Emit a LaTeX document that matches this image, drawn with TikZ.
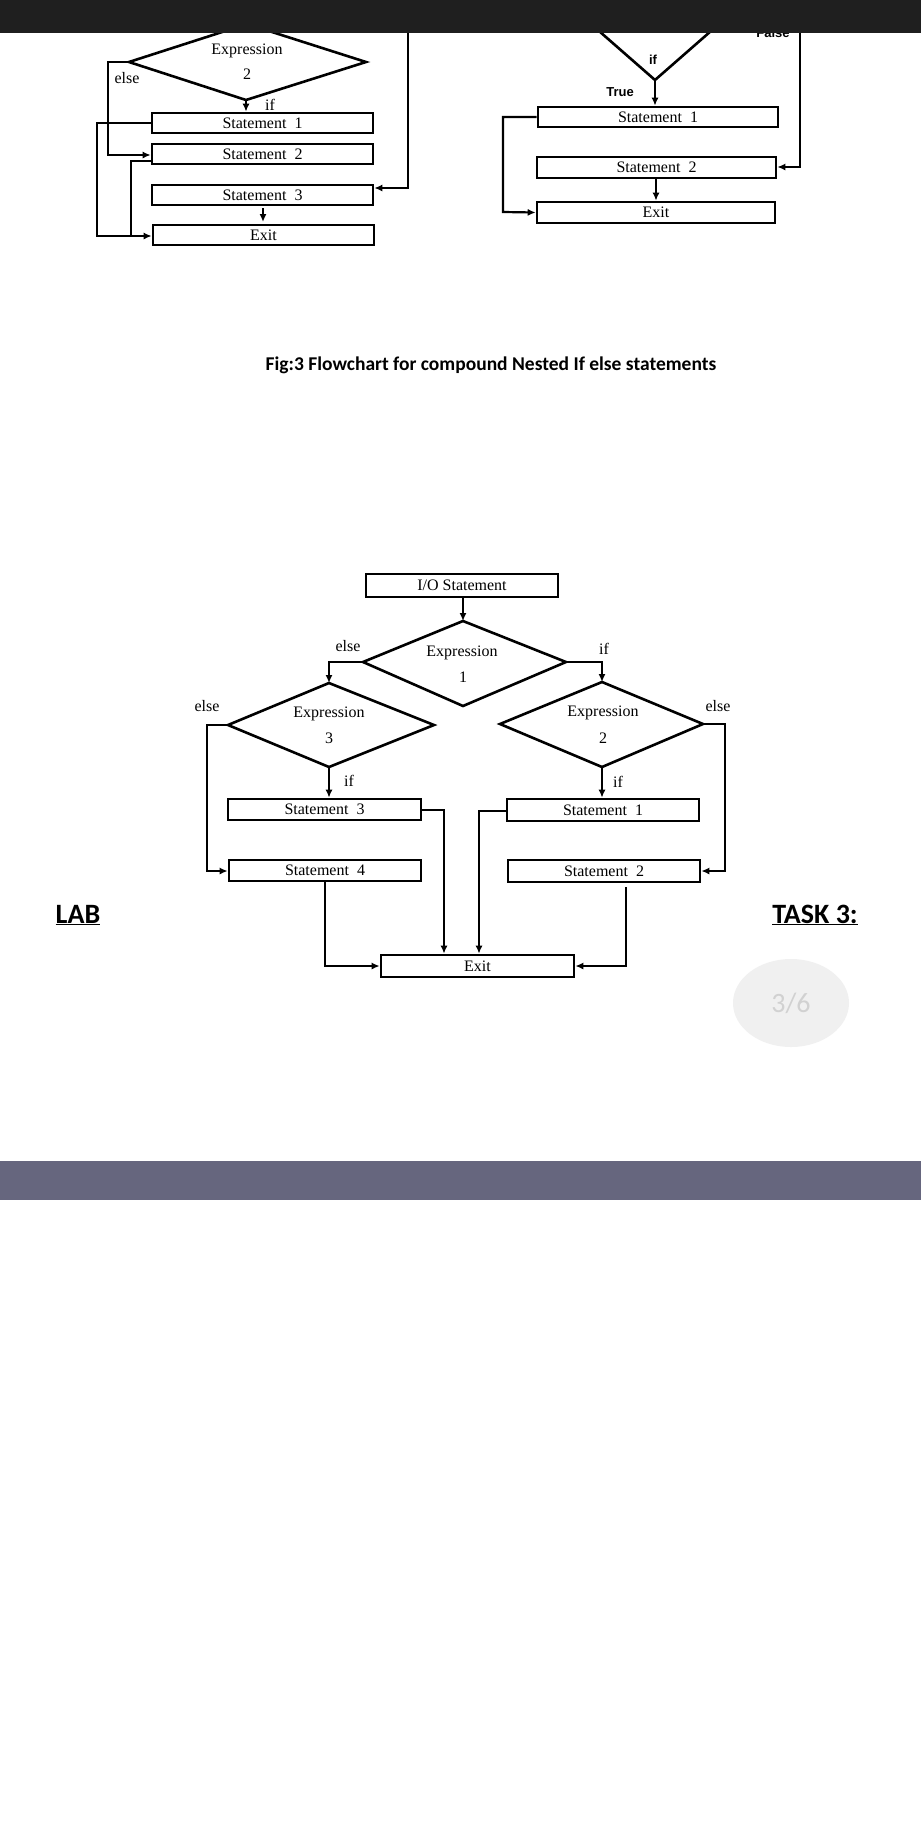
\documentclass[tikz,border=0pt]{standalone}
\usepackage{fontspec}
\setmainfont{Liberation Serif}
\newfontfamily\calfam{Carlito}
\newfontfamily\arlfam{Liberation Sans}
\usetikzlibrary{arrows.meta}
\begin{document}
\begin{tikzpicture}[x=1pt,y=-1pt,
  box/.style={draw,line width=2.6pt,inner sep=0pt,font=\fontsize{16}{16}\selectfont},
  dia/.style={draw,line width=2.6pt,line join=miter},
  con/.style={line width=2.2pt},
  arr/.style={con,-{Latex[length=8pt,width=7pt]}},
  lbl/.style={font=\fontsize{16}{16}\selectfont,inner sep=0pt},
  slbl/.style={font=\arlfam\bfseries\fontsize{13}{13}\selectfont,inner sep=0pt}]
\useasboundingbox (0,0) rectangle (921,1824);
\fill[white] (0,0) rectangle (921,1824);
% ===== top-left chart =====
\coordinate (aL) at (129,62); \coordinate (aR) at (366,62);
\coordinate (aB) at (246,100); \coordinate (aT) at (247,24);
\draw[dia] (aT)--(aR)--(aB)--(aL)--cycle;
\node[lbl] (aE) at (247,51) {Expression};
\node[lbl] (a2) at (247,74) {2};
\node[lbl] (aelse) at (127,78) {else};
\node[lbl] (aif) at (270,105) {if};
\node[box,minimum width=221,minimum height=20] (a1) at (262.5,123) {Statement\ \ 1};
\node[box,minimum width=221,minimum height=20] (a2b) at (262.5,154) {Statement\ \ 2};
\node[box,minimum width=221,minimum height=20] (a3) at (262.5,195) {Statement\ \ 3};
\node[box,minimum width=221,minimum height=20] (ax) at (263.5,235) {Exit};
\draw[arr] (aB)--(a1.north -| aB);
\draw[arr] (aL)--(108,62)--(108,155)--(a2b.west|-0,155);
\draw[arr] (a1.west)--(97,123)--(97,236)--(ax.west|-0,236);
\draw[con] (a2b.west|-0,161)--(131,161)--(131,236);
\draw[arr] (263,208)--(263,222);
\draw[arr] (408,30)--(408,188)--(a3.east|-0,188);
% ===== top-right chart =====
\coordinate (bB) at (655,80);
\draw[dia] (575,10)--(bB)--(735,10);
\node[slbl] (bif) at (653,60) {if};
\node[slbl] (btrue) at (620,92) {True};
\node[slbl] (bfalse) at (773,33) {False};
\node[box,minimum width=240,minimum height=20] (b1) at (658,117) {Statement\ \ 1};
\node[box,minimum width=239,minimum height=21] (b2) at (656.5,167.5) {Statement\ \ 2};
\node[box,minimum width=238,minimum height=21] (bx) at (656,212.5) {Exit};
\draw[arr] (bB)--(b1.north-|bB);
\draw[arr] (b1.west)--(503,117)--(503,212)--(bx.west);
\draw[arr] (b2.south-|656,0)--(bx.north-|656,0);
\draw[arr] (800,30)--(800,167)--(b2.east|-0,167);
% top bar
\fill[black!88] (0,0) rectangle (921,33);
% caption
\node[font=\calfam\bfseries\fontsize{19.5}{19.5}\selectfont] (cap) at (491,365) {Fig:3 Flowchart for compound Nested If else statements};
% ===== bottom chart =====
\node[box,minimum width=192,minimum height=23] (io) at (462,585.5) {I/O Statement};
\coordinate (d1T) at (463,621); \coordinate (d1B) at (463,706);
\coordinate (d1L) at (363,662); \coordinate (d1R) at (566,662);
\draw[dia] (d1T)--(d1R)--(d1B)--(d1L)--cycle;
\node[lbl] (d1a) at (462,653) {Expression};
\node[lbl] (d1b) at (463,677) {1};
\coordinate (d3T) at (329,683); \coordinate (d3B) at (329,767);
\coordinate (d3L) at (228,725); \coordinate (d3R) at (434,725);
\draw[dia] (d3T)--(d3R)--(d3B)--(d3L)--cycle;
\node[lbl] (d3a) at (329,714) {Expression};
\node[lbl] (d3b) at (329,738) {3};
\coordinate (d2T) at (602,682); \coordinate (d2B) at (602,767);
\coordinate (d2L) at (500,724); \coordinate (d2R) at (703,724);
\draw[dia] (d2T)--(d2R)--(d2B)--(d2L)--cycle;
\node[lbl] (d2a) at (603,713) {Expression};
\node[lbl] (d2b) at (603,738) {2};
\node[lbl] (e1) at (348,646) {else};
\node[lbl] (i1) at (604,649) {if};
\node[lbl] (e3) at (207,706) {else};
\node[lbl] (e2) at (718,706) {else};
\node[lbl] (i3) at (349,781) {if};
\node[lbl] (i2) at (618,782) {if};
\node[box,minimum width=193,minimum height=21] (s3) at (324.5,809.5) {Statement\ \ 3};
\node[box,minimum width=192,minimum height=22] (s1) at (603,810) {Statement\ \ 1};
\node[box,minimum width=192,minimum height=21] (s4) at (325,870.5) {Statement\ \ 4};
\node[box,minimum width=192,minimum height=22] (s2) at (604,871) {Statement\ \ 2};
\node[box,minimum width=193,minimum height=22] (ex) at (477.5,966) {Exit};
\draw[arr] (io.south-|d1T)--(d1T);
\draw[arr] (d1L)--(329,662)--(d3T);
\draw[arr] (d1R)--(602,662)--(d2T);
\draw[arr] (d3L)--(207,725)--(207,871)--(s4.west|-0,871);
\draw[arr] (d2R)--(725,724)--(725,871)--(s2.east|-0,871);
\draw[arr] (d3B)--(s3.north-|d3B);
\draw[arr] (d2B)--(s1.north-|d2B);
\draw[arr] (s3.east|-0,810)--(444,810)--(ex.north-|444,0);
\draw[arr] (s1.west|-0,811)--(479,811)--(ex.north-|479,0);
\draw[arr] (325,881)--(325,966)--(ex.west);
\draw[arr] (626,887)--(626,966)--(ex.east);
% side texts
\node[font=\calfam\bfseries\fontsize{28}{28}\selectfont,inner sep=1pt] (lab) at (78,915) {\underline{LAB}};
\node[font=\calfam\bfseries\fontsize{28}{28}\selectfont,inner sep=1pt] (task) at (815,915) {\underline{TASK 3:}};
\fill[black!6] (791,1003) ellipse [x radius=58,y radius=44];
\node[font=\calfam\fontsize{28}{28}\selectfont,text=black!18] (pg) at (791,1003) {3/6};
% bottom bar
\fill[black!84!blue!60] (0,1161) rectangle (921,1200);
\end{tikzpicture}
\end{document}
